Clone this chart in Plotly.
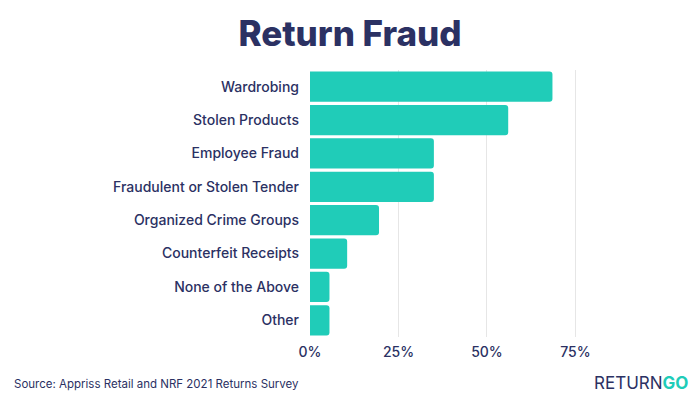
import plotly.graph_objects as go

categories = ["Wardrobing", "Stolen Products", "Employee Fraud", "Fraudulent or Stolen Tender",
              "Organized Crime Groups", "Counterfeit Receipts", "None of the Above", "Other"]
values = [68.5, 56, 35, 35, 19.5, 10.5, 5.5, 5.5]
tick_vals = [0, 25, 50, 75]
tick_text = ["0%", "25%", "50%", "75%"]

NAVY = "#2B3163"
TEAL = "#20CCB8"
FONT = "Inter"

L, R, T, B = 310, 121, 70, 63
PW, PH = 700 - L - R, 400 - T - B

fig = go.Figure(go.Bar(
    x=values, y=categories, orientation="h",
    marker=dict(color=TEAL, cornerradius=3, line=dict(width=0)),
))

fig.update_layout(
    width=700, height=400,
    margin=dict(l=L, r=R, t=T, b=B, autoexpand=False),
    paper_bgcolor="white", plot_bgcolor="white",
    font=dict(family=FONT, color=NAVY, size=14),
    bargap=0.09,
    showlegend=False,
    title=dict(text="Return Fraud", x=0.5, xanchor="center", y=0.915, yanchor="middle",
               font=dict(family=FONT, size=35, color=NAVY, weight=800)),
    xaxis=dict(range=[0, 76], tickvals=tick_vals, ticktext=tick_text, showgrid=True,
               gridcolor="#E6E6E6", gridwidth=1, zeroline=False, showline=False,
               ticklabelstandoff=5, tickfont=dict(size=14, color=NAVY, weight=500), fixedrange=True),
    yaxis=dict(autorange="reversed", showgrid=False, zeroline=False, showline=False,
               ticks="", ticklabelstandoff=10, tickfont=dict(size=14, color=NAVY, weight=500)),
    annotations=[
        dict(text="Source: Appriss Retail and NRF 2021 Returns Survey", xref="paper", yref="paper",
             x=(12 - L) / PW, y=-(384 - 400 + B) / PH, xanchor="left", yanchor="middle", showarrow=False,
             font=dict(size=11.5, color=NAVY)),
        dict(text="RETURN<b><span style='color:%s'>GO</span></b>" % TEAL, xref="paper", yref="paper",
             x=(690 - L) / PW, y=-(383 - 400 + B) / PH, xanchor="right", yanchor="middle", showarrow=False,
             font=dict(size=17, color=NAVY)),
    ],
)

fig.write_html("out.html", config={"displayModeBar": False},
               post_script="document.body.style.margin='0';document.body.style.padding='0';")
